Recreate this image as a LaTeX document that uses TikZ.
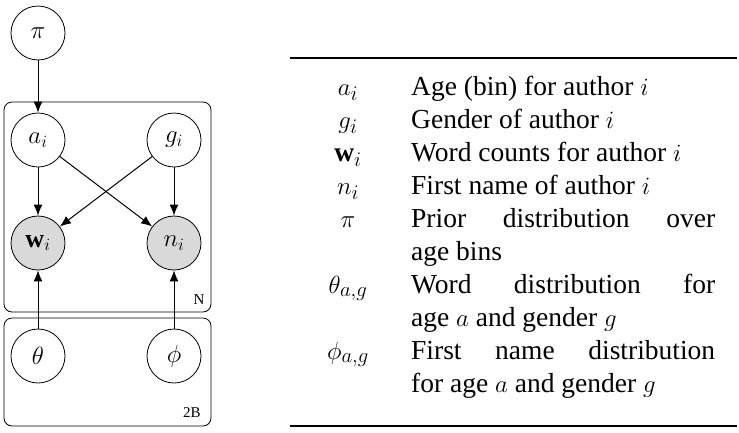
\documentclass[tikz,border=0pt]{standalone}
\usepackage{fontspec}
\setmainfont{Liberation Serif}
\usetikzlibrary{arrows.meta}
\begin{document}
\begin{tikzpicture}[x=1pt,y=-1pt,
  var/.style={circle,draw,line width=0.8pt,minimum size=54pt,inner sep=0pt,font=\fontsize{26}{30}\selectfont},
  obs/.style={var,fill=black!15},
  plate/.style={draw,line width=0.8pt,rounded corners=8pt},
  edge/.style={-{Latex[length=11pt,width=9pt]},line width=1pt},
  sym/.style={font=\fontsize{27.5}{32}\selectfont},
  txt/.style={anchor=base west,inner sep=0pt,font=\fontsize{27.5}{32}\selectfont}]
\useasboundingbox (0,0) rectangle (739,432);
\draw[plate] (4,102) rectangle (211,312);
\draw[plate] (4,318) rectangle (211,426);
\node[font=\fontsize{15}{17}\selectfont] (lN) at (199,300) {N};
\node[font=\fontsize{15}{17}\selectfont] (lB) at (192,413) {2B};
\node[var] (pi) at (38,33) {$\pi$};
\node[var] (a) at (38,140) {$a_i$};
\node[var] (g) at (174,140) {$g_i$};
\node[obs] (w) at (38,243) {$\mathbf{w}_i$};
\node[obs] (n) at (174,243) {$n_i$};
\node[var] (th) at (38,356) {$\theta$};
\node[var] (ph) at (174,356) {$\phi$};
\draw[edge] (pi) -- (a);
\draw[edge] (a) -- (w);
\draw[edge] (a) -- (n);
\draw[edge] (g) -- (w);
\draw[edge] (g) -- (n);
\draw[edge] (th) -- (w);
\draw[edge] (ph) -- (n);
% table
\draw[line width=2pt] (290,58) coordinate (t1) -- (737,58) coordinate (t2);
\draw[line width=2pt] (290,426) coordinate (b1) -- (737,426) coordinate (b2);
\node[sym,anchor=base] (s1) at (348,95) {$a_i$};
\node[sym,anchor=base] (s2) at (348,128) {$g_i$};
\node[sym,anchor=base] (s3) at (348,161) {$\mathbf{w}_i$};
\node[sym,anchor=base] (s4) at (348,194) {$n_i$};
\node[sym,anchor=base] (s5) at (348,227) {$\pi$};
\node[sym,anchor=base] (s6) at (348,293) {$\theta_{a,g}$};
\node[sym,anchor=base] (s7) at (348,359) {$\phi_{a,g}$};
\node[txt] (d1) at (411,95) {Age (bin) for author $i$};
\node[txt] (d2) at (411,128) {Gender of author $i$};
\node[txt] (d3) at (411,161) {Word counts for author $i$};
\node[txt] (d4) at (411,194) {First name of author $i$};
\node[txt] (d5) at (411,227) {\makebox[304pt][s]{Prior distribution over}};
\node[txt] (d5b) at (411,260) {age bins};
\node[txt] (d6) at (411,293) {\makebox[304pt][s]{Word distribution for}};
\node[txt] (d6b) at (411,326) {age $a$ and gender $g$};
\node[txt] (d7) at (411,359) {\makebox[304pt][s]{First name distribution}};
\node[txt] (d7b) at (411,392) {for age $a$ and gender $g$};
\end{tikzpicture}
\end{document}
